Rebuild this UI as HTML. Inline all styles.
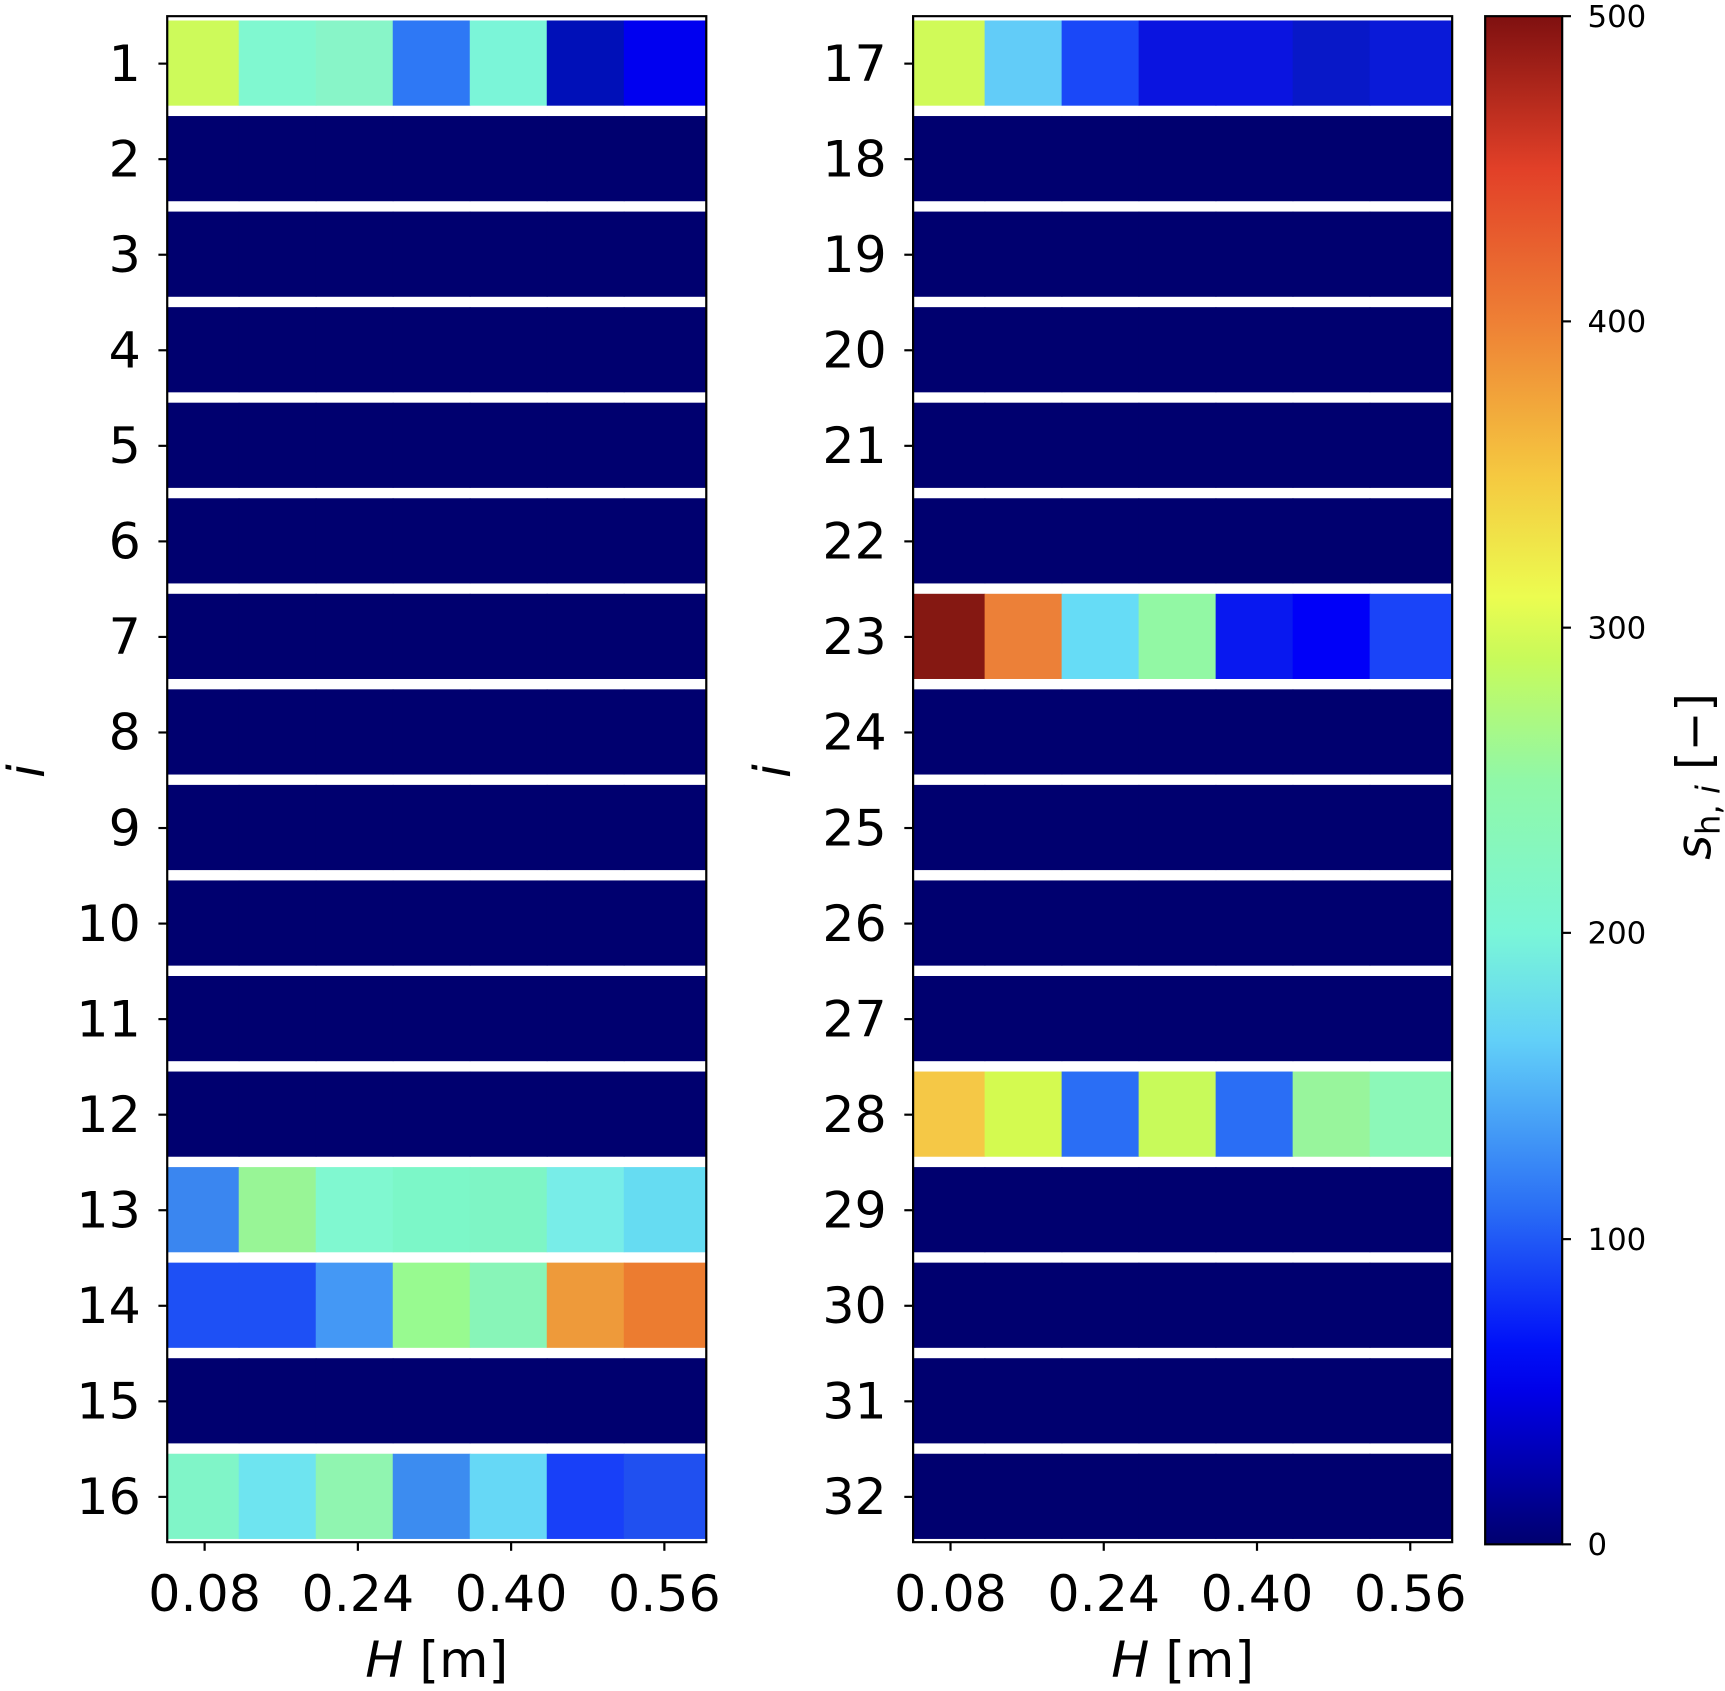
<!DOCTYPE html>
<html><head><meta charset="utf-8"><style>
html,body{margin:0;padding:0;background:#fff;}
svg{display:block;}
text{font-family:"DejaVu Sans","Liberation Sans",sans-serif;fill:#000;}
</style></head><body>
<svg width="1725" height="1691" viewBox="0 0 1568 1568" preserveAspectRatio="none" xmlns="http://www.w3.org/2000/svg">
<defs>
<linearGradient id="jet" x1="0" y1="1" x2="0" y2="0">
<stop offset="0" stop-color="#00006f"/>
<stop offset="0.1" stop-color="#0000e8"/>
<stop offset="0.13" stop-color="#0010f8"/>
<stop offset="0.22" stop-color="#2a6ef5"/>
<stop offset="0.33" stop-color="#62d0f8"/>
<stop offset="0.4" stop-color="#7af6d8"/>
<stop offset="0.5" stop-color="#90f8a8"/>
<stop offset="0.58" stop-color="#c8fa5a"/>
<stop offset="0.62" stop-color="#ecfc50"/>
<stop offset="0.7" stop-color="#f5c840"/>
<stop offset="0.8" stop-color="#ee8035"/>
<stop offset="0.9" stop-color="#e24028"/>
<stop offset="1" stop-color="#7f1010"/>
</linearGradient>
</defs>
<g id="plots"></g>
<rect x="1350" y="15" width="70" height="1417" fill="url(#jet)" stroke="#000" stroke-width="2"/>
<g font-size="28">
<line x1="1420" y1="15" x2="1428" y2="15" stroke="#000" stroke-width="2"/><text x="1443" y="25">500</text>
<line x1="1420" y1="298" x2="1428" y2="298" stroke="#000" stroke-width="2"/><text x="1443" y="308">400</text>
<line x1="1420" y1="582" x2="1428" y2="582" stroke="#000" stroke-width="2"/><text x="1443" y="592">300</text>
<line x1="1420" y1="865" x2="1428" y2="865" stroke="#000" stroke-width="2"/><text x="1443" y="875">200</text>
<line x1="1420" y1="1149" x2="1428" y2="1149" stroke="#000" stroke-width="2"/><text x="1443" y="1159">100</text>
<line x1="1420" y1="1432" x2="1428" y2="1432" stroke="#000" stroke-width="2"/><text x="1443" y="1442">0</text>
</g>
<text transform="translate(1555,720) rotate(-90)" font-size="44" text-anchor="middle"><tspan font-style="italic">s</tspan><tspan font-size="30" dy="8">h, </tspan><tspan font-size="30" font-style="italic">i</tspan><tspan dy="-8"> [−]</tspan></text>
</svg>
<script>
var N="#00006f";
var L={1:["#cdfa5a","#80f8d0","#88f5c8","#2e78f5","#7bf5d8","#0010b8","#0000f0"],
13:["#3a86f0","#98f596","#80f8d0","#7cf7c8","#7ef5c5","#78ede8","#66dcf2"],
14:["#1e50f5","#1e50f5","#4498f5","#98fa90","#88f5b8","#ee9a3a","#ec7c30"],
16:["#80f5c8","#6ee4f0","#90f5b0","#3c8cf0","#66d8f6","#1840f8","#2050f0"],
17:["#d0fa58","#62ccf8","#1a48f8","#0a14e0","#0a14e0","#0818c8","#0a1ad8"],
23:["#851812","#ec8038","#66dcf6","#92f8a4","#0818f0","#0000f8","#1a44f8"],
28:["#f5c846","#d4fa50","#2a6ef5","#c8fa5a","#2a6ef5","#98f59c","#8cf8b8"]};
var g=document.getElementById("plots"),s="";
[[152,1],[830,17]].forEach(function(p){
 var x0=p[0],k0=p[1];
 var bx=[0,65,135,205,275,345,415,490];
 for(var r=0;r<16;r++){
  var k=k0+r,y=19+r*88.6;
  for(var c=0;c<7;c++){
   var col=L[k]?L[k][c]:N;
   s+='<rect x="'+(x0+bx[c])+'" y="'+y+'" width="'+(bx[c+1]-bx[c]+0.6)+'" height="79" fill="'+col+'"/>';
  }
  var cy=59+r*88.6;
  s+='<line x1="'+(x0-8)+'" y1="'+cy+'" x2="'+x0+'" y2="'+cy+'" stroke="#000" stroke-width="2"/>';
  s+='<text x="'+(x0-24)+'" y="'+(cy+16)+'" font-size="46" text-anchor="end">'+k+'</text>';
 }
 s+='<rect x="'+x0+'" y="15" width="490" height="1415" fill="none" stroke="#000" stroke-width="2"/>';
 ["0.08","0.24","0.40","0.56"].forEach(function(t,i){
  var tx=x0+34+i*139.3;
  s+='<line x1="'+tx+'" y1="1430" x2="'+tx+'" y2="1438" stroke="#000" stroke-width="2"/>';
  s+='<text x="'+tx+'" y="1494" font-size="46" text-anchor="middle">'+t+'</text>';
 });
 s+='<text x="'+(x0+245)+'" y="1555" font-size="46" text-anchor="middle"><tspan font-style="italic">H</tspan> [m]</text>';
 s+='<text transform="translate('+(x0-112)+',715) rotate(-90)" font-size="46" font-style="italic" text-anchor="middle">i</text>';
});
g.innerHTML=s;
</script>
</body></html>
